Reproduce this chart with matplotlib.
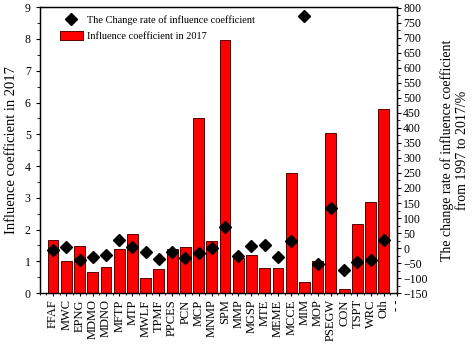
import numpy as np
import matplotlib.pyplot as plt
from matplotlib.ticker import MultipleLocator

plt.rcParams['font.family'] = ['Liberation Serif', 'DejaVu Serif']

sectors = ['FFAF', 'MWC', 'EPNG', 'MDMO', 'MDNO', 'MFTP', 'MTP', 'MWLF', 'TPMF',
           'PPCES', 'PCN', 'MCP', 'MNMP', 'SPM', 'MMP', 'MGSP', 'MTE', 'MEME',
           'MCCE', 'MIM', 'MOP', 'PSEGW', 'CON', 'TSPT', 'WRC', 'Oth']
coef_2017 = [1.66, 1.02, 1.47, 0.67, 0.81, 1.39, 1.85, 0.46, 0.77,
             1.38, 1.44, 5.52, 1.65, 7.96, 1.12, 1.19, 0.79, 0.78,
             3.77, 0.35, 1.02, 5.03, 0.14, 2.17, 2.87, 5.78]
change_rate = [-7, 3, -41, -31, -23, 28, 2, -14, -38,
               -14, -32, -16, 1, 69, -27, 6, 11, -31,
               22, 774, -52, 134, -73, -46, -41, 28]
extra_label = '- -'

x = np.arange(1, len(sectors) + 1)

fig = plt.figure(figsize=(4.74, 3.44), dpi=100)
ax = fig.add_axes([0.084, 0.148, 0.7536, 0.831])
bars = ax.bar(x, coef_2017, width=0.82, color='#ff0000', edgecolor='#5a0000',
              linewidth=0.7, label='Influence coefficient in 2017')
ax.set_xlim(0, len(sectors) + 1)
ax.set_ylim(0, 9)
ax.yaxis.set_major_locator(MultipleLocator(1))
ax.yaxis.set_minor_locator(MultipleLocator(0.5))
ax.set_xticks(list(x) + [len(sectors) + 1])
ax.set_xticklabels(sectors + [extra_label], rotation=90, fontsize=9)
ax.xaxis.set_minor_locator(MultipleLocator(0.5))
ax.tick_params(axis='y', labelsize=8.5, direction='out', length=3, width=0.8)
ax.tick_params(axis='y', which='minor', length=2)
ax.tick_params(axis='x', direction='out', length=2.5, width=0.8, pad=2)
ax.tick_params(axis='x', which='minor', length=1.5)
ax.set_ylabel('Influence coefficient in 2017', fontsize=10.5, labelpad=5)

ax2 = ax.twinx()
pts, = ax2.plot(x, change_rate, 'D', color='black', markersize=6,
                label='The Change rate of influence coefficient')
ax2.set_ylim(-150, 802)
ax2.yaxis.set_major_locator(MultipleLocator(50))
ax2.yaxis.set_minor_locator(MultipleLocator(25))
ax2.tick_params(axis='y', labelsize=8.5, direction='out', length=3, width=0.8, pad=1.5)
ax2.tick_params(axis='y', which='minor', length=2)
ax2.set_ylabel('The change rate of influence coefficient\nfrom 1997 to 2017/%',
               fontsize=10, labelpad=9)

for a in (ax, ax2):
    for s in a.spines.values():
        s.set_linewidth(0.9)

ax.legend([pts, bars], [pts.get_label(), bars.get_label()], loc='upper left',
          bbox_to_anchor=(0.035, 1.0), frameon=False, fontsize=7.5,
          handlelength=2.2, handleheight=1.0, borderaxespad=0.3,
          labelspacing=0.6, handletextpad=0.4)

fig.savefig('out.png', dpi=100)
